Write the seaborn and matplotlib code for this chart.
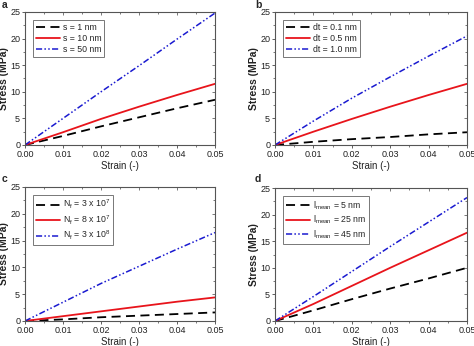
import numpy as np
import pandas as pd
import matplotlib
matplotlib.use("Agg")
import matplotlib.pyplot as plt
import seaborn as sns

strain = [0.0, 0.01, 0.02, 0.03, 0.04, 0.05]

# Panel a
a_labels = ["s = 1 nm", "s = 10 nm", "s = 50 nm"]
a_black = [0.0, 1.7, 3.5, 5.2, 6.9, 8.5]
a_red = [0.0, 2.4, 4.9, 7.2, 9.4, 11.5]
a_blue = [0.0, 5.0, 10.0, 14.9, 19.9, 24.8]

# Panel b
b_labels = ["dt = 0.1 nm", "dt = 0.5 nm", "dt = 1.0 nm"]
b_black = [0.0, 0.6, 1.1, 1.5, 2.0, 2.4]
b_red = [0.0, 2.5, 4.9, 7.2, 9.4, 11.5]
b_blue = [0.0, 4.5, 8.8, 12.8, 16.7, 20.5]

# Panel c
c_labels = [r"N$_f$ = 3 x 10$^7$", r"N$_f$ = 8 x 10$^7$", r"N$_f$ = 3 x 10$^8$"]
c_black = [0.0, 0.3, 0.7, 1.0, 1.3, 1.6]
c_red = [0.0, 0.9, 1.8, 2.7, 3.6, 4.4]
c_blue = [0.0, 3.5, 7.0, 10.2, 13.4, 16.5]

# Panel d
d_labels = [r"l$_{mean}$ = 5 nm", r"l$_{mean}$ = 25 nm", r"l$_{mean}$ = 45 nm"]
d_black = [0.0, 2.0, 4.1, 6.1, 8.0, 10.0]
d_red = [0.0, 3.2, 6.6, 10.0, 13.3, 16.6]
d_blue = [0.0, 4.6, 9.3, 14.0, 18.6, 23.2]

panel_letters = ["a", "b", "c", "d"]
xticks = [0.0, 0.01, 0.02, 0.03, 0.04, 0.05]
xticklabels = ["0.00", "0.01", "0.02", "0.03", "0.04", "0.05"]
yticks = [0, 5, 10, 15, 20, 25]

sns.set_theme(style="ticks")
plt.rcParams["font.family"] = ["Liberation Sans", "DejaVu Sans"]
plt.rcParams["mathtext.fontset"] = "custom"
plt.rcParams["mathtext.rm"] = "Liberation Sans"
plt.rcParams["mathtext.it"] = "Liberation Sans"

fig = plt.figure(figsize=(4.74, 3.46), dpi=100)
W, H = 474, 346
boxes = [(25, 12, 215, 145), (275, 12, 467, 145), (25, 187, 215, 321), (275, 188, 467, 321)]
letter_pos = [(2, 0), (255, 0), (2, 174), (255, 174)]
panels = [
    (a_labels, a_black, a_red, a_blue),
    (b_labels, b_black, b_red, b_blue),
    (c_labels, c_black, c_red, c_blue),
    (d_labels, d_black, d_red, d_blue),
]
styles = [
    dict(color="black", linestyle=(0, (5, 3)), linewidth=1.3),
    dict(color="#e8141b", linestyle="-", linewidth=1.3),
    dict(color="#1a1ad0", linestyle=(0, (4, 1.5, 1, 1.5, 1, 1.5)), linewidth=1.1),
]
tick_col = "#444444"

for i, ((labels, bk, rd, bl), (l, t, r, b)) in enumerate(zip(panels, boxes)):
    ax = fig.add_axes([l / W, 1 - b / H, (r - l) / W, (b - t) / H])
    for lab, ys, st in zip(labels, [bk, rd, bl], styles):
        df = pd.DataFrame({"x": strain, "y": ys})
        sns.lineplot(data=df, x="x", y="y", ax=ax, label=lab, **st)
    ax.set_xlim(0, 0.05)
    ax.set_ylim(0, 25)
    ax.set_xticks(xticks)
    ax.set_xticklabels(xticklabels)
    ax.set_yticks(yticks)
    ax.set_xticks(np.arange(0.005, 0.05, 0.01), minor=True)
    ax.set_yticks(np.arange(2.5, 25, 5), minor=True)
    ax.tick_params(which="major", length=2.5, width=0.6, labelsize=6.5, color=tick_col,
                   labelcolor="#222222", direction="out", pad=1)
    ax.tick_params(which="minor", length=1.5, width=0.5, color=tick_col, direction="out")
    # inward ticks on top and right
    secx = ax.secondary_xaxis("top")
    secx.set_xticks(xticks)
    secx.set_xticks(np.arange(0.005, 0.05, 0.01), minor=True)
    secx.tick_params(which="both", direction="in", labeltop=False, color=tick_col, width=0.5)
    secx.tick_params(which="major", length=2.5)
    secx.tick_params(which="minor", length=1.5)
    secx.spines["top"].set_visible(False)
    secy = ax.secondary_yaxis("right")
    secy.set_yticks(yticks)
    secy.set_yticks(np.arange(2.5, 25, 5), minor=True)
    secy.tick_params(which="both", direction="in", labelright=False, color=tick_col, width=0.5)
    secy.tick_params(which="major", length=2.5)
    secy.tick_params(which="minor", length=1.5)
    secy.spines["right"].set_visible(False)
    for sp in ax.spines.values():
        sp.set_linewidth(0.8)
        sp.set_color("#555555")
    ax.set_xlabel("Strain (-)", fontsize=7, labelpad=1.2, color="#222222")
    ax.set_ylabel("Stress (MPa)", fontsize=7.5, labelpad=1, color="#222222", fontweight="bold")
    leg = ax.legend(loc="upper left", fontsize=6.3, frameon=True, fancybox=False,
                    handlelength=2.8, handletextpad=0.3, borderpad=0.35, labelspacing=0.25,
                    borderaxespad=0, bbox_to_anchor=(0.04, 0.94))
    leg.get_frame().set_edgecolor("#555555")
    leg.get_frame().set_linewidth(0.7)
    lx, ly = letter_pos[i]
    fig.text(lx / W, 1 - ly / H, panel_letters[i], fontsize=7.5,
             fontweight="bold", va="top", ha="left")

fig.savefig("out.png", dpi=100)
